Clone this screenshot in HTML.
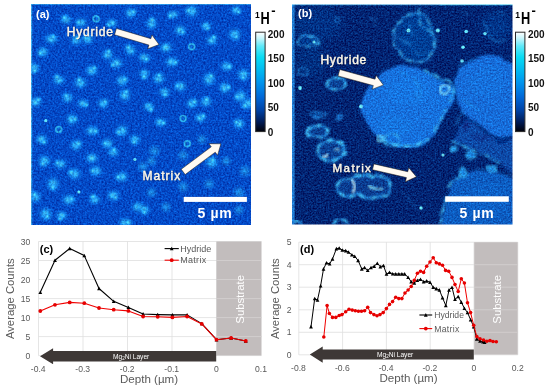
<!DOCTYPE html>
<html lang="en"><head><meta charset="utf-8"><title>Figure</title>
<style>html,body{margin:0;padding:0;background:#fff;overflow:hidden}svg{display:block;font-family:"Liberation Sans", sans-serif}</style>
</head><body>
<svg width="550" height="390" viewBox="0 0 550 390">
<defs>
<radialGradient id="sp"><stop offset="0" stop-color="#54d6fc" stop-opacity="1"/><stop offset="0.12" stop-color="#48ccfc" stop-opacity="1"/><stop offset="0.32" stop-color="#28a6f6" stop-opacity="0.95"/><stop offset="0.6" stop-color="#1484ea" stop-opacity="0.55"/><stop offset="1" stop-color="#0a68dc" stop-opacity="0"/></radialGradient>
<radialGradient id="sd"><stop offset="0" stop-color="#249cee" stop-opacity="0.9"/><stop offset="0.5" stop-color="#1884e4" stop-opacity="0.6"/><stop offset="1" stop-color="#0e6cd4" stop-opacity="0"/></radialGradient>
<linearGradient id="cb" x1="0" y1="0" x2="0" y2="1"><stop offset="0" stop-color="#ffffff"/><stop offset="0.06" stop-color="#c8f6fc"/><stop offset="0.14" stop-color="#5ee8f8"/><stop offset="0.25" stop-color="#08dcf4"/><stop offset="0.40" stop-color="#00b4f0"/><stop offset="0.50" stop-color="#0096ee"/><stop offset="0.65" stop-color="#0068d8"/><stop offset="0.78" stop-color="#0044a8"/><stop offset="0.90" stop-color="#001c58"/><stop offset="1" stop-color="#000008"/></linearGradient>
<filter color-interpolation-filters="sRGB" id="nzA" x="0" y="0" width="100%" height="100%"><feTurbulence type="fractalNoise" baseFrequency="0.55" numOctaves="2" seed="3" result="t"/><feColorMatrix in="t" type="matrix" values="0.06 0 0 0 0.47  0.42 0 0 0 0.29  0.5 0 0 0 0.25  0 0 0 0 1" result="n"/><feComposite in="SourceGraphic" in2="n" operator="arithmetic" k1="0" k2="1" k3="1" k4="-0.5"/></filter>
<filter color-interpolation-filters="sRGB" id="nzB" x="0" y="0" width="100%" height="100%"><feTurbulence type="fractalNoise" baseFrequency="0.6" numOctaves="2" seed="11" result="t"/><feColorMatrix in="t" type="matrix" values="0.06 0 0 0 0.47  0.42 0 0 0 0.29  0.52 0 0 0 0.24  0 0 0 0 1" result="n"/><feComposite in="SourceGraphic" in2="n" operator="arithmetic" k1="0" k2="1" k3="1" k4="-0.5"/></filter>
<filter id="bl1"><feGaussianBlur stdDeviation="0.9"/></filter>
<filter id="bl2"><feGaussianBlur stdDeviation="1.6"/></filter>
<filter id="ts" x="-10%" y="-30%" width="120%" height="160%"><feDropShadow dx="0.3" dy="0.3" stdDeviation="0.55" flood-color="#100800" flood-opacity="0.75"/></filter>
<filter id="bl05"><feGaussianBlur stdDeviation="0.5"/></filter>
<filter id="bl06" x="-30%" y="-30%" width="160%" height="160%"><feGaussianBlur stdDeviation="0.65"/></filter>
<filter id="bl07" x="-20%" y="-20%" width="140%" height="140%"><feTurbulence type="fractalNoise" baseFrequency="0.11" numOctaves="2" seed="8" result="w"/><feDisplacementMap in="SourceGraphic" in2="w" scale="5" xChannelSelector="R" yChannelSelector="G" result="d"/><feGaussianBlur in="d" stdDeviation="0.85"/></filter>
<filter id="bl15" x="-10%" y="-10%" width="120%" height="120%"><feTurbulence type="fractalNoise" baseFrequency="0.07" numOctaves="2" seed="4" result="w"/><feDisplacementMap in="SourceGraphic" in2="w" scale="4.5" xChannelSelector="R" yChannelSelector="G" result="d"/><feGaussianBlur in="d" stdDeviation="1.3"/></filter>
<filter id="bl3" x="-30%" y="-30%" width="160%" height="160%"><feGaussianBlur stdDeviation="5"/></filter>
<clipPath id="cA"><rect x="31" y="4" width="220" height="221"/></clipPath>
<clipPath id="cB"><rect x="292" y="4.5" width="220.5" height="220"/></clipPath>
</defs>
<rect width="550" height="390" fill="#fff"/>
<g clip-path="url(#cA)"><g filter="url(#nzA)">
<rect x="20" y="0" width="240" height="235" fill="#044ac6"/>
<ellipse cx="65.9" cy="19.7" rx="8.1" ry="6.8" fill="url(#sp)"/>
<circle cx="64.6" cy="17.8" r="4.8" fill="url(#sp)"/>
<ellipse cx="81.1" cy="22.5" rx="8.2" ry="6.7" fill="url(#sp)"/>
<circle cx="78.8" cy="22.4" r="4.7" fill="url(#sp)"/>
<circle cx="96.1" cy="18.8" r="2.9" fill="#1c8ce6" fill-opacity="0.35" stroke="#34c4f2" stroke-opacity="0.75" stroke-width="1.7" filter="url(#bl06)"/>
<ellipse cx="111.9" cy="23.1" rx="7.7" ry="6.3" fill="url(#sp)"/>
<circle cx="108.8" cy="24.7" r="4.2" fill="url(#sp)"/>
<ellipse cx="130.6" cy="13.0" rx="8.0" ry="7.6" fill="url(#sp)"/>
<circle cx="133.5" cy="12.0" r="4.6" fill="url(#sp)"/>
<ellipse cx="51.5" cy="38.9" rx="9.2" ry="7.4" fill="url(#sp)"/>
<circle cx="53.2" cy="36.8" r="4.2" fill="url(#sp)"/>
<ellipse cx="76.0" cy="40.4" rx="7.8" ry="6.8" fill="url(#sp)"/>
<circle cx="77.0" cy="38.1" r="4.9" fill="url(#sp)"/>
<ellipse cx="87.5" cy="38.9" rx="8.6" ry="7.7" fill="url(#sp)"/>
<circle cx="85.3" cy="38.2" r="4.1" fill="url(#sp)"/>
<ellipse cx="42.9" cy="51.9" rx="7.9" ry="7.7" fill="url(#sp)"/>
<circle cx="40.5" cy="53.1" r="4.9" fill="url(#sp)"/>
<ellipse cx="107.6" cy="54.7" rx="8.3" ry="7.3" fill="url(#sp)"/>
<circle cx="108.5" cy="51.6" r="4.4" fill="url(#sp)"/>
<ellipse cx="91.8" cy="70.5" rx="8.5" ry="7.9" fill="url(#sp)"/>
<circle cx="94.1" cy="68.2" r="4.4" fill="url(#sp)"/>
<ellipse cx="116.2" cy="63.3" rx="9.2" ry="7.6" fill="url(#sp)"/>
<circle cx="113.3" cy="64.9" r="4.2" fill="url(#sp)"/>
<ellipse cx="58.7" cy="80.0" rx="8.4" ry="6.8" fill="url(#sp)"/>
<circle cx="57.0" cy="77.1" r="4.9" fill="url(#sp)"/>
<ellipse cx="80.3" cy="82.9" rx="9.0" ry="7.9" fill="url(#sp)"/>
<circle cx="79.3" cy="80.0" r="4.9" fill="url(#sp)"/>
<ellipse cx="122.0" cy="80.6" rx="8.3" ry="8.4" fill="url(#sp)"/>
<circle cx="124.7" cy="79.6" r="5.0" fill="url(#sp)"/>
<ellipse cx="130.6" cy="50.4" rx="7.7" ry="7.5" fill="url(#sp)"/>
<circle cx="128.4" cy="47.5" r="5.2" fill="url(#sp)"/>
<ellipse cx="67.4" cy="97.8" rx="8.1" ry="7.2" fill="url(#sp)"/>
<circle cx="66.3" cy="95.9" r="4.7" fill="url(#sp)"/>
<ellipse cx="83.0" cy="103.5" rx="7.9" ry="6.5" fill="url(#sp)"/>
<circle cx="86.1" cy="104.7" r="4.2" fill="url(#sp)"/>
<ellipse cx="103.3" cy="103.6" rx="8.0" ry="7.2" fill="url(#sp)"/>
<circle cx="104.9" cy="101.9" r="4.7" fill="url(#sp)"/>
<ellipse cx="124.8" cy="95.0" rx="8.5" ry="8.7" fill="url(#sp)"/>
<circle cx="126.3" cy="91.8" r="4.4" fill="url(#sp)"/>
<ellipse cx="35.7" cy="102.0" rx="8.3" ry="7.4" fill="url(#sp)"/>
<circle cx="38.4" cy="99.6" r="4.2" fill="url(#sp)"/>
<ellipse cx="34.3" cy="67.7" rx="7.9" ry="6.8" fill="url(#sp)"/>
<circle cx="34.6" cy="70.6" r="4.9" fill="url(#sp)"/>
<ellipse cx="173.0" cy="14.5" rx="8.0" ry="6.4" fill="url(#sp)"/>
<circle cx="170.6" cy="15.8" r="4.8" fill="url(#sp)"/>
<ellipse cx="191.7" cy="11.0" rx="9.1" ry="8.9" fill="url(#sp)"/>
<circle cx="188.6" cy="10.7" r="5.0" fill="url(#sp)"/>
<ellipse cx="151.5" cy="23.7" rx="7.7" ry="7.9" fill="url(#sp)"/>
<circle cx="152.1" cy="20.2" r="5.2" fill="url(#sp)"/>
<ellipse cx="180.2" cy="30.3" rx="8.2" ry="7.4" fill="url(#sp)"/>
<circle cx="182.7" cy="32.2" r="4.1" fill="url(#sp)"/>
<ellipse cx="206.1" cy="26.0" rx="7.7" ry="6.6" fill="url(#sp)"/>
<circle cx="207.5" cy="28.3" r="4.1" fill="url(#sp)"/>
<ellipse cx="236.3" cy="10.2" rx="7.6" ry="6.4" fill="url(#sp)"/>
<circle cx="238.5" cy="11.8" r="4.0" fill="url(#sp)"/>
<ellipse cx="234.8" cy="34.6" rx="9.0" ry="8.6" fill="url(#sp)"/>
<circle cx="236.3" cy="36.7" r="4.5" fill="url(#sp)"/>
<ellipse cx="165.9" cy="47.5" rx="9" ry="7.5" fill="url(#sp)"/>
<circle cx="191.7" cy="46.7" r="2.9" fill="#1c8ce6" fill-opacity="0.35" stroke="#34c4f2" stroke-opacity="0.75" stroke-width="1.7" filter="url(#bl06)"/>
<ellipse cx="211.8" cy="40.4" rx="8.2" ry="6.8" fill="url(#sp)"/>
<circle cx="213.9" cy="37.4" r="4.7" fill="url(#sp)"/>
<ellipse cx="144.3" cy="57.6" rx="8.4" ry="6.9" fill="url(#sp)"/>
<circle cx="146.5" cy="59.2" r="4.4" fill="url(#sp)"/>
<ellipse cx="171.6" cy="61.9" rx="8.9" ry="7.5" fill="url(#sp)"/>
<circle cx="175.2" cy="62.4" r="4.8" fill="url(#sp)"/>
<ellipse cx="226.2" cy="66.2" rx="7.8" ry="7.3" fill="url(#sp)"/>
<circle cx="229.1" cy="66.7" r="5.5" fill="url(#sp)"/>
<ellipse cx="243.4" cy="74.8" rx="9.0" ry="8.7" fill="url(#sp)"/>
<circle cx="243.2" cy="77.5" r="4.3" fill="url(#sp)"/>
<ellipse cx="158.7" cy="78.3" rx="8.8" ry="8.2" fill="url(#sp)"/>
<circle cx="159.2" cy="75.6" r="4.3" fill="url(#sp)"/>
<ellipse cx="209.0" cy="79.1" rx="8.9" ry="9.3" fill="url(#sp)"/>
<circle cx="211.0" cy="76.4" r="5.2" fill="url(#sp)"/>
<ellipse cx="180.2" cy="86.3" rx="8.8" ry="7.5" fill="url(#sp)"/>
<circle cx="177.5" cy="86.0" r="4.0" fill="url(#sp)"/>
<ellipse cx="144.3" cy="73.4" rx="7.6" ry="6.6" fill="url(#sp)"/>
<circle cx="144.1" cy="76.6" r="5.4" fill="url(#sp)"/>
<ellipse cx="224.8" cy="87.8" rx="8.3" ry="8.6" fill="url(#sp)"/>
<circle cx="228.4" cy="87.5" r="4.5" fill="url(#sp)"/>
<ellipse cx="164.4" cy="92.0" rx="8.0" ry="6.8" fill="url(#sp)"/>
<circle cx="165.2" cy="94.4" r="4.9" fill="url(#sp)"/>
<ellipse cx="240.6" cy="96.4" rx="9.0" ry="9.1" fill="url(#sp)"/>
<circle cx="237.4" cy="96.8" r="5.2" fill="url(#sp)"/>
<ellipse cx="191.7" cy="103.6" rx="7.7" ry="7.5" fill="url(#sp)"/>
<circle cx="194.5" cy="101.8" r="5.1" fill="url(#sp)"/>
<ellipse cx="206.0" cy="102.0" rx="8.4" ry="7.1" fill="url(#sp)"/>
<circle cx="206.7" cy="99.4" r="5.2" fill="url(#sp)"/>
<ellipse cx="247.8" cy="103.6" rx="9.2" ry="8.2" fill="url(#sp)"/>
<circle cx="244.9" cy="105.7" r="5.1" fill="url(#sp)"/>
<ellipse cx="148.6" cy="106.4" rx="7.9" ry="6.5" fill="url(#sp)"/>
<circle cx="150.7" cy="109.3" r="5.2" fill="url(#sp)"/>
<circle cx="45.8" cy="120.7" r="1.6" fill="#5fe0fa" filter="url(#bl05)"/>
<ellipse cx="71.7" cy="119.3" rx="7.8" ry="7.9" fill="url(#sp)"/>
<circle cx="74.9" cy="118.9" r="4.5" fill="url(#sp)"/>
<circle cx="58.7" cy="129.4" r="2.9" fill="#1c8ce6" fill-opacity="0.35" stroke="#34c4f2" stroke-opacity="0.75" stroke-width="1.7" filter="url(#bl06)"/>
<ellipse cx="91.8" cy="130.8" rx="8.5" ry="7.1" fill="url(#sp)"/>
<circle cx="95.4" cy="131.1" r="5.0" fill="url(#sp)"/>
<ellipse cx="122.0" cy="130.8" rx="8.4" ry="8.7" fill="url(#sp)"/>
<circle cx="118.8" cy="132.2" r="5.2" fill="url(#sp)"/>
<ellipse cx="134.9" cy="139.4" rx="7.9" ry="6.8" fill="url(#sp)"/>
<circle cx="134.2" cy="141.9" r="4.9" fill="url(#sp)"/>
<ellipse cx="41.5" cy="139.4" rx="8.0" ry="7.3" fill="url(#sp)"/>
<circle cx="43.9" cy="142.0" r="4.5" fill="url(#sp)"/>
<ellipse cx="76.0" cy="145.2" rx="8.3" ry="7.9" fill="url(#sp)"/>
<circle cx="78.3" cy="143.6" r="5.4" fill="url(#sp)"/>
<ellipse cx="107.6" cy="143.7" rx="8.4" ry="7.8" fill="url(#sp)"/>
<circle cx="105.4" cy="143.4" r="4.7" fill="url(#sp)"/>
<ellipse cx="113.3" cy="152.4" rx="7.9" ry="6.3" fill="url(#sp)"/>
<circle cx="114.0" cy="150.1" r="4.7" fill="url(#sp)"/>
<ellipse cx="91.8" cy="158.1" rx="9" ry="7.5" fill="url(#sp)"/>
<ellipse cx="44.4" cy="161.0" rx="8.8" ry="8.2" fill="url(#sp)"/>
<circle cx="43.0" cy="163.6" r="4.8" fill="url(#sp)"/>
<ellipse cx="60.2" cy="163.9" rx="8.9" ry="7.3" fill="url(#sp)"/>
<circle cx="57.8" cy="163.0" r="4.4" fill="url(#sp)"/>
<ellipse cx="74.5" cy="173.9" rx="8.8" ry="8.2" fill="url(#sp)"/>
<circle cx="71.4" cy="172.6" r="5.4" fill="url(#sp)"/>
<ellipse cx="96.1" cy="171.0" rx="8.3" ry="7.9" fill="url(#sp)"/>
<circle cx="93.1" cy="170.9" r="5.0" fill="url(#sp)"/>
<ellipse cx="122.0" cy="176.8" rx="8.3" ry="7.8" fill="url(#sp)"/>
<circle cx="118.4" cy="177.3" r="5.0" fill="url(#sp)"/>
<circle cx="134.9" cy="159.5" r="1.6" fill="#5fe0fa" filter="url(#bl05)"/>
<ellipse cx="53.0" cy="184.0" rx="9.0" ry="9.3" fill="url(#sp)"/>
<circle cx="52.8" cy="187.0" r="5.4" fill="url(#sp)"/>
<circle cx="78.9" cy="192.0" r="1.6" fill="#5fe0fa" filter="url(#bl05)"/>
<ellipse cx="113.3" cy="195.5" rx="8.9" ry="7.5" fill="url(#sp)"/>
<circle cx="115.4" cy="197.5" r="4.1" fill="url(#sp)"/>
<ellipse cx="94.7" cy="199.8" rx="8.0" ry="6.5" fill="url(#sp)"/>
<circle cx="93.1" cy="196.9" r="5.3" fill="url(#sp)"/>
<ellipse cx="35.7" cy="196.9" rx="7.8" ry="7.7" fill="url(#sp)"/>
<circle cx="34.4" cy="194.9" r="5.3" fill="url(#sp)"/>
<ellipse cx="68.8" cy="199.8" rx="9.1" ry="7.8" fill="url(#sp)"/>
<circle cx="71.5" cy="199.0" r="4.7" fill="url(#sp)"/>
<ellipse cx="45.8" cy="214.1" rx="9.2" ry="9.3" fill="url(#sp)"/>
<circle cx="47.3" cy="216.5" r="4.8" fill="url(#sp)"/>
<ellipse cx="61.6" cy="215.6" rx="8.1" ry="6.9" fill="url(#sp)"/>
<circle cx="60.2" cy="218.6" r="4.0" fill="url(#sp)"/>
<ellipse cx="137.8" cy="207.0" rx="8.5" ry="7.7" fill="url(#sp)"/>
<circle cx="140.5" cy="207.3" r="4.9" fill="url(#sp)"/>
<ellipse cx="124.8" cy="222.8" rx="8.4" ry="6.9" fill="url(#sp)"/>
<circle cx="128.2" cy="222.5" r="5.5" fill="url(#sp)"/>
<circle cx="183.1" cy="118.4" r="2.9" fill="#1c8ce6" fill-opacity="0.35" stroke="#34c4f2" stroke-opacity="0.75" stroke-width="1.7" filter="url(#bl06)"/>
<ellipse cx="160.1" cy="122.2" rx="7.8" ry="6.7" fill="url(#sp)"/>
<circle cx="163.4" cy="123.0" r="4.4" fill="url(#sp)"/>
<ellipse cx="200.3" cy="117.9" rx="7.8" ry="7.1" fill="url(#sp)"/>
<circle cx="203.2" cy="116.1" r="4.4" fill="url(#sp)"/>
<ellipse cx="239.1" cy="123.6" rx="7.8" ry="8.1" fill="url(#sp)"/>
<circle cx="236.2" cy="122.2" r="4.1" fill="url(#sp)"/>
<circle cx="201.8" cy="139.4" r="6.6" fill="url(#sd)"/>
<circle cx="187.4" cy="143.7" r="2.9" fill="#1c8ce6" fill-opacity="0.35" stroke="#34c4f2" stroke-opacity="0.75" stroke-width="1.7" filter="url(#bl06)"/>
<circle cx="154.4" cy="150.9" r="7.5" fill="url(#sd)"/>
<circle cx="183.1" cy="155.2" r="7.1" fill="url(#sd)"/>
<circle cx="151.5" cy="161.0" r="6.6" fill="url(#sd)"/>
<ellipse cx="211.8" cy="162.4" rx="9.1" ry="8.7" fill="url(#sp)"/>
<circle cx="212.5" cy="160.2" r="5.3" fill="url(#sp)"/>
<circle cx="226.2" cy="161.0" r="6.6" fill="url(#sd)"/>
<circle cx="244.9" cy="171.0" r="7.8" fill="url(#sd)"/>
<circle cx="142.9" cy="166.7" r="7.2" fill="url(#sd)"/>
<circle cx="209.0" cy="184.0" r="7.0" fill="url(#sd)"/>
<circle cx="183.1" cy="186.8" r="7.3" fill="url(#sd)"/>
<circle cx="239.1" cy="192.6" r="7.9" fill="url(#sd)"/>
<circle cx="165.9" cy="207.0" r="6.9" fill="url(#sd)"/>
<ellipse cx="144.3" cy="209.8" rx="7.8" ry="7.3" fill="url(#sp)"/>
<circle cx="144.5" cy="212.2" r="4.2" fill="url(#sp)"/>
<circle cx="239.1" cy="209.8" r="6.6" fill="url(#sd)"/>
<circle cx="151.5" cy="192.6" r="6.8" fill="url(#sd)"/>
<rect x="31" y="4" width="1.2" height="221" fill="#49b6ee" opacity="0.8"/>
<rect x="31" y="4" width="220" height="1" fill="#35a6ea" opacity="0.7"/>
</g></g>
<polygon transform="translate(115.5 31.6) rotate(16.64)" points="0.0,-3.3 35.9,-3.3 35.9,-7.2 45.4,0.0 35.9,7.2 35.9,3.3 0.0,3.3" fill="#fffaf2" stroke="#1a1208" stroke-opacity="0.55" stroke-width="0.8" stroke-linejoin="round"/>
<text x="66.8" y="35.8" font-size="12" letter-spacing="0.8" font-weight="normal" fill="#fbf6ea" stroke="#fbf6ea" stroke-width="0.3" filter="url(#ts)">Hydride</text>
<polygon transform="translate(183.2 171.9) rotate(-36.70)" points="0.0,-3.3 37.5,-3.3 37.5,-7.2 47.0,0.0 37.5,7.2 37.5,3.3 0.0,3.3" fill="#fffaf2" stroke="#1a1208" stroke-opacity="0.55" stroke-width="0.8" stroke-linejoin="round"/>
<text x="142.6" y="179.6" font-size="12" letter-spacing="1" font-weight="normal" fill="#fbf6ea" stroke="#fbf6ea" stroke-width="0.3" filter="url(#ts)">Matrix</text>
<text x="36" y="17.7" font-size="11" font-weight="bold" fill="#fff">(a)</text>
<rect x="183.7" y="196.9" width="63.2" height="5" fill="#fff"/>
<text x="215" y="218.4" font-size="14" font-weight="bold" letter-spacing="0.7" fill="#fff" text-anchor="middle">5 µm</text>
<g clip-path="url(#cB)"><g filter="url(#nzB)">
<rect x="282" y="0" width="240" height="235" fill="#032472"/>
<g filter="url(#bl3)">
<ellipse cx="318" cy="24" rx="24" ry="16" fill="#0c4aa8" opacity="0.35"/>
<ellipse cx="418" cy="36" rx="18" ry="26" fill="#0e50b0" opacity="0.3"/>
<ellipse cx="497" cy="26" rx="15" ry="14" fill="#0c4aa8" opacity="0.45"/>
<ellipse cx="312" cy="60" rx="14" ry="18" fill="#0a429c" opacity="0.35"/>
</g>
<g filter="url(#bl15)" transform="translate(0.8 1.2)">
<path d="M452,140 C460,142 470,146 480,151 C492,157 503,165 514,173 L514,136 C505,140 497,139 490,135 C482,130 474,123 467,117 C462,122 456,130 452,140 Z" fill="#0a48a6"/>
<path d="M449,187 C452,181 456,177 461,174 C465,171.5 469,170 474,169.6 C481,169 488,170 495,171.5 C502,173 508,175 514,177 L514,226 L440,226 C441,218 443,211 445,204 C446,198 447,192 449,187 Z" fill="#0f5cc0"/>
<path d="M459,67 C463,62 469,59 475,57.5 C481,55 487,54 493,54.3 C499,54.5 504,57 509,60.5 L515,64 L515,133 C510,135 505,136.5 499,135.5 C494,134 491,132 487,130 C482,127 478,124 474.5,121 C471,118.5 469,117 467,115 C464,113 462,112.5 461,110.5 C458,106 457,101 456,96.5 C455,91 454,85 454.7,79 C455.5,74 457,70 459,67 Z" fill="#156cd8"/>
<path d="M391,66.5 C398,64 408,64.5 416,67 C426,70 434,75 441,79 C447,82 453,83 454,88 C455,94 453,99 451,103 C448,108 445,112 442,117 C440,122 437,127 434,132 C430,138 426,142 420,144 C414,146.5 407,146 400,145.5 C393,144 387,142 382,139 C376,135 371,131 368,125 C364,119 361,113 360.5,107 C360,101 362,96 365,91 C368,85 371,80 376,76 C381,71 385,68 391,66.5 Z" fill="#1670dc"/>
<ellipse cx="466" cy="122" rx="3.5" ry="7" fill="#062e86" opacity="0.8"/>
<ellipse cx="500" cy="139" rx="7" ry="4" fill="#062e86" opacity="0.85"/>
<ellipse cx="480" cy="137" rx="9" ry="4" fill="#062e86" opacity="0.6"/>
<ellipse cx="408" cy="90" rx="22" ry="14" fill="#1c7ce6" opacity="0.45"/>
<ellipse cx="395" cy="125" rx="18" ry="10" fill="#1c7ce6" opacity="0.35"/>
<ellipse cx="488" cy="80" rx="16" ry="18" fill="#1a76e0" opacity="0.4"/>
<ellipse cx="486" cy="200" rx="22" ry="18" fill="#1468d0" opacity="0.4"/>
</g>
<path d="M382,139 C390,144 400,147 410,146 C418,145.5 424,143 428,139" fill="none" fill-opacity="0.32" stroke="#2692e6" stroke-width="2.52" stroke-opacity="0.9" stroke-linecap="round" stroke-linejoin="round" filter="url(#bl07)"/><path d="M382,139 C390,144 400,147 410,146 C418,145.5 424,143 428,139" fill="none" stroke="#58dcfa" stroke-width="2.16" stroke-opacity="0.675" stroke-linecap="round" stroke-dasharray="4 8" filter="url(#bl07)"/>
<path d="M434,131 C438,124 442,117 446,110" fill="none" fill-opacity="0.32" stroke="#2692e6" stroke-width="2.1" stroke-opacity="0.7" stroke-linecap="round" stroke-linejoin="round" filter="url(#bl07)"/><path d="M434,131 C438,124 442,117 446,110" fill="none" stroke="#58dcfa" stroke-width="1.8" stroke-opacity="0.525" stroke-linecap="round" stroke-dasharray="4 8" filter="url(#bl07)"/>
<path d="M424,70 C432,74 442,78 449,82 C455,86 455,95 451,101" fill="none" fill-opacity="0.32" stroke="#2692e6" stroke-width="2.1" stroke-opacity="0.8" stroke-linecap="round" stroke-linejoin="round" filter="url(#bl07)"/><path d="M424,70 C432,74 442,78 449,82 C455,86 455,95 451,101" fill="none" stroke="#58dcfa" stroke-width="1.8" stroke-opacity="0.6" stroke-linecap="round" stroke-dasharray="4 8" filter="url(#bl07)"/>
<path d="M441,89 a4,4 0 1,0 8,2 a4,4 0 1,0 -8,-2" fill="none" fill-opacity="0.32" stroke="#8feafc" stroke-width="2.1" stroke-opacity="0.9" stroke-linecap="round" stroke-linejoin="round" filter="url(#bl07)"/>
<path d="M414,78 C418,84 422,90 420,97 C417,100 414,96 416,92" fill="none" fill-opacity="0.32" stroke="#2692e6" stroke-width="1.54" stroke-opacity="0.6" stroke-linecap="round" stroke-linejoin="round" filter="url(#bl07)"/>
<path d="M377.5,139 a3,3 0 1,0 6,0 a3,3 0 1,0 -6,0" fill="none" fill-opacity="0.32" stroke="#6fdcfa" stroke-width="1.82" stroke-opacity="0.9" stroke-linecap="round" stroke-linejoin="round" filter="url(#bl07)"/>
<path d="M400,73 C404,71 408,73 406,77" fill="none" fill-opacity="0.32" stroke="#2692e6" stroke-width="1.4" stroke-opacity="0.5" stroke-linecap="round" stroke-linejoin="round" filter="url(#bl07)"/>
<path d="M327,84 C328,79 334,77 339,78 C344,78 347,82 345,86 C343,89 336,90 331,89 C328,88 326,86 327,84 Z" fill="#1a78da" fill-opacity="0.32" stroke="#2692e6" stroke-width="2.1" stroke-opacity="0.9" stroke-linecap="round" stroke-linejoin="round" filter="url(#bl07)"/><path d="M327,84 C328,79 334,77 339,78 C344,78 347,82 345,86 C343,89 336,90 331,89 C328,88 326,86 327,84 Z" fill="none" stroke="#58dcfa" stroke-width="1.8" stroke-opacity="0.675" stroke-linecap="round" stroke-dasharray="4 8" filter="url(#bl07)"/>
<path d="M307,131 C308,127 314,125 319,126 C324,125 329,128 328,132 C327,136 321,138 315,137.5 C310,137 306,135 307,131 Z" fill="#1a78da" fill-opacity="0.32" stroke="#2692e6" stroke-width="2.24" stroke-opacity="0.9" stroke-linecap="round" stroke-linejoin="round" filter="url(#bl07)"/><path d="M307,131 C308,127 314,125 319,126 C324,125 329,128 328,132 C327,136 321,138 315,137.5 C310,137 306,135 307,131 Z" fill="none" stroke="#58dcfa" stroke-width="1.92" stroke-opacity="0.675" stroke-linecap="round" stroke-dasharray="4 8" filter="url(#bl07)"/>
<path d="M318,148 C320,142 328,139.5 334,141 C341,141 346,146 345,152 C344,158 338,161.5 331,161 C323,161 316,155 318,148 Z" fill="#1a78da" fill-opacity="0.32" stroke="#2692e6" stroke-width="2.52" stroke-opacity="0.9" stroke-linecap="round" stroke-linejoin="round" filter="url(#bl07)"/><path d="M318,148 C320,142 328,139.5 334,141 C341,141 346,146 345,152 C344,158 338,161.5 331,161 C323,161 316,155 318,148 Z" fill="none" stroke="#58dcfa" stroke-width="2.16" stroke-opacity="0.675" stroke-linecap="round" stroke-dasharray="4 8" filter="url(#bl07)"/>
<path d="M323,156 C325,158 328,157 327,154" fill="none" fill-opacity="0.32" stroke="#c8f6fe" stroke-width="1.82" stroke-opacity="0.9" stroke-linecap="round" stroke-linejoin="round" filter="url(#bl07)"/>
<path d="M334,150 C337,147 340,149 339,152" fill="none" fill-opacity="0.32" stroke="#a8f0fc" stroke-width="1.68" stroke-opacity="0.9" stroke-linecap="round" stroke-linejoin="round" filter="url(#bl07)"/>
<path d="M338,186 C339,180 346,177 352,179 C355,174 366,173 372,176 C380,174 390,178 391,185 C392,192 384,198.5 376,197 C370,200 362,198 358,193 C352,199 344,198 340,193 C338,191 337,188 338,186 Z" fill="#1a78da" fill-opacity="0.3" stroke="#2692e6" stroke-width="2.38" stroke-opacity="0.9" stroke-linecap="round" stroke-linejoin="round" filter="url(#bl07)"/><path d="M338,186 C339,180 346,177 352,179 C355,174 366,173 372,176 C380,174 390,178 391,185 C392,192 384,198.5 376,197 C370,200 362,198 358,193 C352,199 344,198 340,193 C338,191 337,188 338,186 Z" fill="none" stroke="#58dcfa" stroke-width="2.04" stroke-opacity="0.675" stroke-linecap="round" stroke-dasharray="4 8" filter="url(#bl07)"/>
<path d="M352,180 C355,184 356,188 353,192" fill="none" fill-opacity="0.32" stroke="#d0f8fe" stroke-width="2.24" stroke-opacity="0.9" stroke-linecap="round" stroke-linejoin="round" filter="url(#bl07)"/>
<path d="M370,186 C372,190 378,191 382,188" fill="none" fill-opacity="0.32" stroke="#8feafc" stroke-width="2.24" stroke-opacity="0.9" stroke-linecap="round" stroke-linejoin="round" filter="url(#bl07)"/>
<path d="M384,137 C386,133 392,133 396,136 C400,138 402,142 398,145 C393,147 386,146 384,142 Z" fill="none" fill-opacity="0.32" stroke="#2692e6" stroke-width="1.82" stroke-opacity="0.7" stroke-linecap="round" stroke-linejoin="round" filter="url(#bl07)"/><path d="M384,137 C386,133 392,133 396,136 C400,138 402,142 398,145 C393,147 386,146 384,142 Z" fill="none" stroke="#58dcfa" stroke-width="1.56" stroke-opacity="0.525" stroke-linecap="round" stroke-dasharray="4 8" filter="url(#bl07)"/>
<path d="M333,224 C335,219 343,218 347,222" fill="none" fill-opacity="0.32" stroke="#2692e6" stroke-width="2.24" stroke-opacity="0.9" stroke-linecap="round" stroke-linejoin="round" filter="url(#bl07)"/><path d="M333,224 C335,219 343,218 347,222" fill="none" stroke="#58dcfa" stroke-width="1.92" stroke-opacity="0.675" stroke-linecap="round" stroke-dasharray="4 8" filter="url(#bl07)"/>
<path d="M294,223 C297,220 301,221 302,224" fill="none" fill-opacity="0.32" stroke="#2692e6" stroke-width="1.96" stroke-opacity="0.9" stroke-linecap="round" stroke-linejoin="round" filter="url(#bl07)"/><path d="M294,223 C297,220 301,221 302,224" fill="none" stroke="#58dcfa" stroke-width="1.68" stroke-opacity="0.675" stroke-linecap="round" stroke-dasharray="4 8" filter="url(#bl07)"/>
<circle cx="316" cy="117" r="2.8" fill="#1a78da" fill-opacity="0.7" stroke="#2ea6ea" stroke-opacity="0.6" stroke-width="0.8" filter="url(#bl07)"/>
<circle cx="339" cy="117" r="3.2" fill="#1a78da" fill-opacity="0.7" stroke="#2ea6ea" stroke-opacity="0.6" stroke-width="0.8" filter="url(#bl07)"/>
<path d="M334.5,20 a2.7,2.7 0 1,0 5.4,0 a2.7,2.7 0 1,0 -5.4,0" fill="none" fill-opacity="0.32" stroke="#2692e6" stroke-width="1.4" stroke-opacity="0.45" stroke-linecap="round" stroke-linejoin="round" filter="url(#bl07)"/>
<path d="M370,19 C373,17 376,20 375,25" fill="none" fill-opacity="0.32" stroke="#2692e6" stroke-width="1.4" stroke-opacity="0.4" stroke-linecap="round" stroke-linejoin="round" filter="url(#bl07)"/>
<path d="M298,70 C301,67 308,68 308,72 C307,76 300,76 298,73 Z" fill="none" fill-opacity="0.32" stroke="#2692e6" stroke-width="1.68" stroke-opacity="0.6" stroke-linecap="round" stroke-linejoin="round" filter="url(#bl07)"/>
<path d="M398,24 C402,17 410,13 419,13 C426,14 430,21 432,29 C435,36 436,45 433,52 C430,59 423,63 415,62 C407,61 400,55 396,47 C392,39 393,31 398,24 Z" fill="#1464c8" fill-opacity="0.25" stroke="#2692e6" stroke-width="1.82" stroke-opacity="0.7" stroke-linecap="round" stroke-linejoin="round" filter="url(#bl07)"/><path d="M398,24 C402,17 410,13 419,13 C426,14 430,21 432,29 C435,36 436,45 433,52 C430,59 423,63 415,62 C407,61 400,55 396,47 C392,39 393,31 398,24 Z" fill="none" stroke="#58dcfa" stroke-width="1.56" stroke-opacity="0.525" stroke-linecap="round" stroke-dasharray="4 8" filter="url(#bl07)"/>
<path d="M419,9 C421,14 419,18 420,22 C422,28 430,29 433,35" fill="none" fill-opacity="0.32" stroke="#2692e6" stroke-width="1.82" stroke-opacity="0.75" stroke-linecap="round" stroke-linejoin="round" filter="url(#bl07)"/><path d="M419,9 C421,14 419,18 420,22 C422,28 430,29 433,35" fill="none" stroke="#58dcfa" stroke-width="1.56" stroke-opacity="0.5625" stroke-linecap="round" stroke-dasharray="4 8" filter="url(#bl07)"/>
<path d="M400,38 C404,41 407,43 411,45" fill="none" fill-opacity="0.32" stroke="#2692e6" stroke-width="1.68" stroke-opacity="0.65" stroke-linecap="round" stroke-linejoin="round" filter="url(#bl07)"/>
<path d="M416,52 C419,56 424,55 425,50" fill="none" fill-opacity="0.32" stroke="#2692e6" stroke-width="1.54" stroke-opacity="0.5" stroke-linecap="round" stroke-linejoin="round" filter="url(#bl07)"/>
<path d="M408,24 C412,28 411,34 415,37" fill="none" fill-opacity="0.32" stroke="#2692e6" stroke-width="1.4" stroke-opacity="0.45" stroke-linecap="round" stroke-linejoin="round" filter="url(#bl07)"/>
<path d="M298,40 C301,36 308,35 313,37 C318,37 320,41 318,44 C314,47 306,47 301,46 C298,45 297,43 298,40 Z" fill="#1464c8" fill-opacity="0.25" stroke="#2692e6" stroke-width="1.82" stroke-opacity="0.75" stroke-linecap="round" stroke-linejoin="round" filter="url(#bl07)"/><path d="M298,40 C301,36 308,35 313,37 C318,37 320,41 318,44 C314,47 306,47 301,46 C298,45 297,43 298,40 Z" fill="none" stroke="#58dcfa" stroke-width="1.56" stroke-opacity="0.5625" stroke-linecap="round" stroke-dasharray="4 8" filter="url(#bl07)"/>
<path d="M310,113 C314,111 322,111 327,114 C324,118 314,118 310,115 Z" fill="#1464c8" fill-opacity="0.25" stroke="#2692e6" stroke-width="1.54" stroke-opacity="0.6" stroke-linecap="round" stroke-linejoin="round" filter="url(#bl07)"/>
<path d="M484,21 C486,28 488,34 491,38 C496,41 501,41 505,40" fill="none" fill-opacity="0.32" stroke="#2692e6" stroke-width="1.68" stroke-opacity="0.55" stroke-linecap="round" stroke-linejoin="round" filter="url(#bl07)"/>
<path d="M498,13 C501,11 504,13 503,16" fill="none" fill-opacity="0.32" stroke="#2692e6" stroke-width="1.4" stroke-opacity="0.45" stroke-linecap="round" stroke-linejoin="round" filter="url(#bl07)"/>
<path d="M462,13 C465,11 469,12 468,16" fill="none" fill-opacity="0.32" stroke="#2692e6" stroke-width="1.4" stroke-opacity="0.5" stroke-linecap="round" stroke-linejoin="round" filter="url(#bl07)"/>
<circle cx="408.4" cy="30.5" r="1.9" fill="#66e4fc" filter="url(#bl06)"/>
<circle cx="437.8" cy="30.5" r="2" fill="#66e4fc" filter="url(#bl06)"/>
<circle cx="466.2" cy="31.5" r="1.8" fill="#66e4fc" filter="url(#bl06)"/>
<circle cx="485" cy="33.6" r="1.7" fill="#66e4fc" filter="url(#bl06)"/>
<circle cx="463" cy="47.3" r="1.8" fill="#66e4fc" filter="url(#bl06)"/>
<circle cx="462" cy="61" r="1.8" fill="#66e4fc" filter="url(#bl06)"/>
<circle cx="361" cy="106.6" r="2" fill="#66e4fc" filter="url(#bl06)"/>
<circle cx="300" cy="88" r="1.9" fill="#66e4fc" filter="url(#bl06)"/>
<circle cx="443" cy="155" r="1.6" fill="#66e4fc" filter="url(#bl06)"/>
<circle cx="421" cy="208" r="1.7" fill="#66e4fc" filter="url(#bl06)"/>
<circle cx="314" cy="42" r="1.5" fill="#66e4fc" filter="url(#bl06)"/>
<ellipse cx="453.6" cy="149" rx="3.2" ry="2.4" fill="#1c84e0" stroke="#38b8f0" stroke-width="1.1" filter="url(#bl07)"/>
<ellipse cx="470.4" cy="155" rx="5.5" ry="4.5" fill="#1c84e0" stroke="#38b8f0" stroke-width="1.1" filter="url(#bl07)"/>
<ellipse cx="463" cy="172" rx="4.5" ry="5.5" fill="#1c84e0" stroke="#38b8f0" stroke-width="1.1" filter="url(#bl07)"/>
<ellipse cx="491.4" cy="169" rx="4.2" ry="3.2" fill="#1c84e0" stroke="#38b8f0" stroke-width="1.1" filter="url(#bl07)"/>
<path d="M451.5,141.5 C462,145 472,149 481,154 C488,158 494,160 499,163" fill="none" fill-opacity="0.32" stroke="#2692e6" stroke-width="1.96" stroke-opacity="0.7" stroke-linecap="round" stroke-linejoin="round" filter="url(#bl07)"/><path d="M451.5,141.5 C462,145 472,149 481,154 C488,158 494,160 499,163" fill="none" stroke="#58dcfa" stroke-width="1.68" stroke-opacity="0.525" stroke-linecap="round" stroke-dasharray="4 8" filter="url(#bl07)"/>
<path d="M455,125 C458,119 461,114 463,110" fill="none" fill-opacity="0.32" stroke="#2692e6" stroke-width="1.68" stroke-opacity="0.55" stroke-linecap="round" stroke-linejoin="round" filter="url(#bl07)"/>
<path d="M449,187 C452,181 456,177 461,174" fill="none" fill-opacity="0.32" stroke="#2692e6" stroke-width="2.1" stroke-opacity="0.7" stroke-linecap="round" stroke-linejoin="round" filter="url(#bl07)"/><path d="M449,187 C452,181 456,177 461,174" fill="none" stroke="#58dcfa" stroke-width="1.8" stroke-opacity="0.525" stroke-linecap="round" stroke-dasharray="4 8" filter="url(#bl07)"/>
<path d="M440,224 C441,215 444,206 447,196" fill="none" fill-opacity="0.32" stroke="#2692e6" stroke-width="2.52" stroke-opacity="0.7" stroke-linecap="round" stroke-linejoin="round" filter="url(#bl07)"/><path d="M440,224 C441,215 444,206 447,196" fill="none" stroke="#58dcfa" stroke-width="2.16" stroke-opacity="0.525" stroke-linecap="round" stroke-dasharray="4 8" filter="url(#bl07)"/>
<path d="M474,169.6 C481,169 488,170 495,171.5 C502,173 508,175 514,177" fill="none" fill-opacity="0.32" stroke="#2692e6" stroke-width="1.68" stroke-opacity="0.4" stroke-linecap="round" stroke-linejoin="round" filter="url(#bl07)"/>
<path d="M404,193 C407,197 411,203 416,206" fill="none" fill-opacity="0.32" stroke="#2692e6" stroke-width="1.54" stroke-opacity="0.4" stroke-linecap="round" stroke-linejoin="round" filter="url(#bl07)"/>
<path d="M462,100 C468,104 476,106 480,112" fill="none" fill-opacity="0.32" stroke="#2692e6" stroke-width="1.68" stroke-opacity="0.5" stroke-linecap="round" stroke-linejoin="round" filter="url(#bl07)"/>
<path d="M470,78 C474,84 472,92 476,96" fill="none" fill-opacity="0.32" stroke="#2692e6" stroke-width="1.4" stroke-opacity="0.4" stroke-linecap="round" stroke-linejoin="round" filter="url(#bl07)"/>
<path d="M459,68 C463,62 469,59 475,57.5" fill="none" fill-opacity="0.32" stroke="#2692e6" stroke-width="1.54" stroke-opacity="0.35" stroke-linecap="round" stroke-linejoin="round" filter="url(#bl07)"/>
<rect x="292" y="4" width="2.6" height="221" fill="#2484dc" opacity="0.9"/>
<rect x="292" y="4" width="221" height="1.3" fill="#2aa8e8" opacity="0.75"/>
<rect x="440" y="4" width="73" height="1.2" fill="#38d0f0" opacity="0.7"/>
</g></g>
<polygon transform="translate(338.9 72.7) rotate(15.33)" points="0.0,-3.3 36.6,-3.3 36.6,-7.2 46.1,0.0 36.6,7.2 36.6,3.3 0.0,3.3" fill="#fffaf2" stroke="#1a1208" stroke-opacity="0.55" stroke-width="0.8" stroke-linejoin="round"/>
<text x="320.4" y="63.7" font-size="12" letter-spacing="0.75" font-weight="normal" fill="#fbf6ea" stroke="#fbf6ea" stroke-width="0.3" filter="url(#ts)">Hydride</text>
<polygon transform="translate(373.2 166.8) rotate(13.03)" points="0.0,-3.0 34.8,-3.0 34.8,-7.2 44.3,0.0 34.8,7.2 34.8,3.0 0.0,3.0" fill="#fffaf2" stroke="#1a1208" stroke-opacity="0.55" stroke-width="0.8" stroke-linejoin="round"/>
<text x="332.6" y="171.7" font-size="11.6" letter-spacing="1.35" font-weight="normal" fill="#fbf6ea" stroke="#fbf6ea" stroke-width="0.3" filter="url(#ts)">Matrix</text>
<text x="298" y="17.2" font-size="11" font-weight="bold" fill="#fff">(b)</text>
<rect x="445.2" y="196.3" width="63.6" height="5.5" fill="#fff"/>
<text x="477" y="218.4" font-size="14" font-weight="bold" letter-spacing="0.7" fill="#fff" text-anchor="middle">5 µm</text>
<rect x="255.7" y="32.2" width="9.4" height="99.4" fill="url(#cb)" stroke="#2a2a2a" stroke-width="1"/><text x="267.8" y="37.6" font-size="10" font-weight="bold" fill="#111">200</text><text x="267.8" y="62.0" font-size="10" font-weight="bold" fill="#111">150</text><text x="267.8" y="86.6" font-size="10" font-weight="bold" fill="#111">100</text><text x="267.8" y="111.2" font-size="10" font-weight="bold" fill="#111">50</text><text x="267.8" y="135.8" font-size="10" font-weight="bold" fill="#111">0</text><text x="255.0" y="17.8" font-size="8.5" font-weight="bold" fill="#000">1</text><text transform="translate(260.6 23.7) scale(0.8 1)" font-size="16" font-weight="bold" fill="#000">H</text><text x="271.3" y="15" font-size="13" font-weight="bold" fill="#000">-</text>
<rect x="515.5" y="32.2" width="9.4" height="99.4" fill="url(#cb)" stroke="#2a2a2a" stroke-width="1"/><text x="528.0" y="37.6" font-size="10" font-weight="bold" fill="#111">200</text><text x="528.0" y="62.0" font-size="10" font-weight="bold" fill="#111">150</text><text x="528.0" y="86.6" font-size="10" font-weight="bold" fill="#111">100</text><text x="528.0" y="111.2" font-size="10" font-weight="bold" fill="#111">50</text><text x="528.0" y="135.8" font-size="10" font-weight="bold" fill="#111">0</text><text x="515.3" y="17.8" font-size="8.5" font-weight="bold" fill="#000">1</text><text transform="translate(520.9 23.7) scale(0.8 1)" font-size="16" font-weight="bold" fill="#000">H</text><text x="531.6" y="15" font-size="13" font-weight="bold" fill="#000">-</text>
<line x1="38.5" y1="355.6" x2="261.3" y2="355.6" stroke="#dedede" stroke-width="0.8"/><line x1="38.5" y1="336.6" x2="261.3" y2="336.6" stroke="#dedede" stroke-width="0.8"/><line x1="38.5" y1="317.6" x2="261.3" y2="317.6" stroke="#dedede" stroke-width="0.8"/><line x1="38.5" y1="298.6" x2="261.3" y2="298.6" stroke="#dedede" stroke-width="0.8"/><line x1="38.5" y1="279.5" x2="261.3" y2="279.5" stroke="#dedede" stroke-width="0.8"/><line x1="38.5" y1="260.5" x2="261.3" y2="260.5" stroke="#dedede" stroke-width="0.8"/><line x1="38.5" y1="241.5" x2="261.3" y2="241.5" stroke="#dedede" stroke-width="0.8"/><line x1="38.5" y1="241.5" x2="38.5" y2="355.6" stroke="#dedede" stroke-width="0.8"/><line x1="83.0" y1="241.5" x2="83.0" y2="355.6" stroke="#dedede" stroke-width="0.8"/><line x1="127.5" y1="241.5" x2="127.5" y2="355.6" stroke="#dedede" stroke-width="0.8"/><line x1="172.0" y1="241.5" x2="172.0" y2="355.6" stroke="#dedede" stroke-width="0.8"/><line x1="216.5" y1="241.5" x2="216.5" y2="355.6" stroke="#dedede" stroke-width="0.8"/><line x1="261.0" y1="241.5" x2="261.0" y2="355.6" stroke="#dedede" stroke-width="0.8"/>
<rect x="216.5" y="241.5" width="44.9" height="114" fill="#c2bdbd"/>
<line x1="216.5" y1="336.6" x2="261.4" y2="336.6" stroke="#d3cfcf" stroke-width="0.9"/>
<line x1="216.5" y1="317.6" x2="261.4" y2="317.6" stroke="#d3cfcf" stroke-width="0.9"/>
<line x1="216.5" y1="298.6" x2="261.4" y2="298.6" stroke="#d3cfcf" stroke-width="0.9"/>
<line x1="216.5" y1="279.5" x2="261.4" y2="279.5" stroke="#d3cfcf" stroke-width="0.9"/>
<line x1="216.5" y1="260.5" x2="261.4" y2="260.5" stroke="#d3cfcf" stroke-width="0.9"/>
<text transform="translate(243.6 299.3) rotate(-90)" font-size="11.4" fill="#fff" text-anchor="middle">Substrate</text>
<text x="30.4" y="358.7" font-size="8.6" fill="#595959" text-anchor="end">0</text>
<text x="30.4" y="339.7" font-size="8.6" fill="#595959" text-anchor="end">5</text>
<text x="30.4" y="320.7" font-size="8.6" fill="#595959" text-anchor="end">10</text>
<text x="30.4" y="301.7" font-size="8.6" fill="#595959" text-anchor="end">15</text>
<text x="30.4" y="282.6" font-size="8.6" fill="#595959" text-anchor="end">20</text>
<text x="30.4" y="263.6" font-size="8.6" fill="#595959" text-anchor="end">25</text>
<text x="30.4" y="244.6" font-size="8.6" fill="#595959" text-anchor="end">30</text>
<text x="38.2" y="371.7" font-size="8.6" fill="#595959" text-anchor="middle">-0.4</text>
<text x="82.7" y="371.7" font-size="8.6" fill="#595959" text-anchor="middle">-0.3</text>
<text x="127.2" y="371.7" font-size="8.6" fill="#595959" text-anchor="middle">-0.2</text>
<text x="171.7" y="371.7" font-size="8.6" fill="#595959" text-anchor="middle">-0.1</text>
<text x="216.5" y="371.7" font-size="8.6" fill="#595959" text-anchor="middle">0</text>
<text x="261.0" y="371.7" font-size="8.6" fill="#595959" text-anchor="middle">0.1</text>
<text transform="translate(13.6 298.7) rotate(-90)" font-size="11.3" fill="#595959" text-anchor="middle">Average Counts</text>
<text x="149" y="383.2" font-size="11.6" fill="#595959" text-anchor="middle">Depth (µm)</text>
<polygon points="40,356.2 53.1,348.2 53.1,351.1 216.2,351.1 216.2,361.5 53.1,361.5 53.1,364.3" fill="#3e3836"/>
<text x="113" y="358.6" font-size="6.6" fill="#fff">Mg<tspan font-size="4.5" dy="1.2">2</tspan><tspan dy="-1.2">Ni Layer</tspan></text>
<polyline points="40.3,292.3 55.0,260.3 69.7,248.5 84.3,255.6 99.0,288.5 113.7,301.3 128.4,307.4 143.1,314.0 157.7,314.6 172.4,314.9 187.1,314.9 201.8,323.6 216.5,339.7 231.1,338.0 245.8,341.0" fill="none" stroke="#000" stroke-width="1.1" stroke-linejoin="round"/>
<polygon points="40.3,290.4 38.4,294.0 42.2,294.0" fill="#000"/>
<polygon points="55.0,258.4 53.1,262.0 56.9,262.0" fill="#000"/>
<polygon points="69.7,246.6 67.8,250.2 71.6,250.2" fill="#000"/>
<polygon points="84.3,253.7 82.4,257.3 86.2,257.3" fill="#000"/>
<polygon points="99.0,286.6 97.1,290.2 100.9,290.2" fill="#000"/>
<polygon points="113.7,299.4 111.8,303.0 115.6,303.0" fill="#000"/>
<polygon points="128.4,305.5 126.5,309.1 130.3,309.1" fill="#000"/>
<polygon points="143.1,312.1 141.2,315.7 145.0,315.7" fill="#000"/>
<polygon points="157.7,312.7 155.8,316.3 159.6,316.3" fill="#000"/>
<polygon points="172.4,313.0 170.5,316.6 174.3,316.6" fill="#000"/>
<polygon points="187.1,313.0 185.2,316.6 189.0,316.6" fill="#000"/>
<polygon points="201.8,321.7 199.9,325.3 203.7,325.3" fill="#000"/>
<polygon points="216.5,337.8 214.6,341.4 218.4,341.4" fill="#000"/>
<polygon points="231.1,336.1 229.2,339.7 233.0,339.7" fill="#000"/>
<polygon points="245.8,339.1 243.9,342.7 247.7,342.7" fill="#000"/>
<polyline points="40.3,311.0 55.0,304.8 69.7,302.4 84.3,303.2 99.0,308.0 113.7,309.7 128.4,310.9 143.1,316.5 157.7,316.8 172.4,317.4 187.1,316.5 201.8,323.9 216.5,339.7 231.1,338.0 245.8,341.0" fill="none" stroke="#f00000" stroke-width="1.1" stroke-linejoin="round"/>
<circle cx="40.3" cy="311.0" r="1.9" fill="#e60000"/>
<circle cx="55.0" cy="304.8" r="1.9" fill="#e60000"/>
<circle cx="69.7" cy="302.4" r="1.9" fill="#e60000"/>
<circle cx="84.3" cy="303.2" r="1.9" fill="#e60000"/>
<circle cx="99.0" cy="308.0" r="1.9" fill="#e60000"/>
<circle cx="113.7" cy="309.7" r="1.9" fill="#e60000"/>
<circle cx="128.4" cy="310.9" r="1.9" fill="#e60000"/>
<circle cx="143.1" cy="316.5" r="1.9" fill="#e60000"/>
<circle cx="157.7" cy="316.8" r="1.9" fill="#e60000"/>
<circle cx="172.4" cy="317.4" r="1.9" fill="#e60000"/>
<circle cx="187.1" cy="316.5" r="1.9" fill="#e60000"/>
<circle cx="201.8" cy="323.9" r="1.9" fill="#e60000"/>
<circle cx="216.5" cy="339.7" r="1.9" fill="#e60000"/>
<circle cx="231.1" cy="338.0" r="1.9" fill="#e60000"/>
<circle cx="245.8" cy="341.0" r="1.9" fill="#e60000"/>
<line x1="164.6" y1="248.6" x2="178.8" y2="248.6" stroke="#000" stroke-width="1.1"/><polygon points="171.7,246.7 169.8,250.3 173.6,250.3" fill="#000"/>
<text x="180.2" y="251.8" font-size="9" fill="#595959">Hydride</text>
<line x1="164.6" y1="260.2" x2="178.8" y2="260.2" stroke="#f00000" stroke-width="1.1"/><circle cx="171.7" cy="260.2" r="1.9" fill="#e60000"/>
<text x="180.2" y="263.4" font-size="9" letter-spacing="0.3" fill="#595959">Matrix</text>
<text x="39.8" y="253.2" font-size="11" font-weight="bold" fill="#000">(c)</text>
<line x1="298.8" y1="354.8" x2="517.7" y2="354.8" stroke="#dedede" stroke-width="0.8"/><line x1="298.8" y1="332.3" x2="517.7" y2="332.3" stroke="#dedede" stroke-width="0.8"/><line x1="298.8" y1="309.8" x2="517.7" y2="309.8" stroke="#dedede" stroke-width="0.8"/><line x1="298.8" y1="287.2" x2="517.7" y2="287.2" stroke="#dedede" stroke-width="0.8"/><line x1="298.8" y1="264.7" x2="517.7" y2="264.7" stroke="#dedede" stroke-width="0.8"/><line x1="298.8" y1="242.2" x2="517.7" y2="242.2" stroke="#dedede" stroke-width="0.8"/><line x1="298.8" y1="242.2" x2="298.8" y2="354.8" stroke="#dedede" stroke-width="0.8"/><line x1="342.6" y1="242.2" x2="342.6" y2="354.8" stroke="#dedede" stroke-width="0.8"/><line x1="386.4" y1="242.2" x2="386.4" y2="354.8" stroke="#dedede" stroke-width="0.8"/><line x1="430.2" y1="242.2" x2="430.2" y2="354.8" stroke="#dedede" stroke-width="0.8"/><line x1="474.0" y1="242.2" x2="474.0" y2="354.8" stroke="#dedede" stroke-width="0.8"/><line x1="517.8" y1="242.2" x2="517.8" y2="354.8" stroke="#dedede" stroke-width="0.8"/>
<rect x="474.2" y="242.2" width="43.5" height="112.4" fill="#c2bdbd"/>
<line x1="474.2" y1="332.3" x2="517.7" y2="332.3" stroke="#d3cfcf" stroke-width="0.9"/>
<line x1="474.2" y1="309.8" x2="517.7" y2="309.8" stroke="#d3cfcf" stroke-width="0.9"/>
<line x1="474.2" y1="287.2" x2="517.7" y2="287.2" stroke="#d3cfcf" stroke-width="0.9"/>
<line x1="474.2" y1="264.7" x2="517.7" y2="264.7" stroke="#d3cfcf" stroke-width="0.9"/>
<text transform="translate(500.6 299.3) rotate(-90)" font-size="11.4" fill="#fff" text-anchor="middle">Substrate</text>
<text x="291.6" y="357.9" font-size="8.6" fill="#595959" text-anchor="end">0</text>
<text x="291.6" y="335.4" font-size="8.6" fill="#595959" text-anchor="end">1</text>
<text x="291.6" y="312.9" font-size="8.6" fill="#595959" text-anchor="end">2</text>
<text x="291.6" y="290.3" font-size="8.6" fill="#595959" text-anchor="end">3</text>
<text x="291.6" y="267.8" font-size="8.6" fill="#595959" text-anchor="end">4</text>
<text x="291.6" y="245.3" font-size="8.6" fill="#595959" text-anchor="end">5</text>
<text x="298.5" y="371" font-size="8.6" fill="#595959" text-anchor="middle">-0.8</text>
<text x="342.3" y="371" font-size="8.6" fill="#595959" text-anchor="middle">-0.6</text>
<text x="386.1" y="371" font-size="8.6" fill="#595959" text-anchor="middle">-0.4</text>
<text x="429.9" y="371" font-size="8.6" fill="#595959" text-anchor="middle">-0.2</text>
<text x="474.0" y="371" font-size="8.6" fill="#595959" text-anchor="middle">0</text>
<text x="517.8" y="371" font-size="8.6" fill="#595959" text-anchor="middle">0.2</text>
<text transform="translate(279.2 298.7) rotate(-90)" font-size="11.3" fill="#595959" text-anchor="middle">Average Counts</text>
<text x="408.5" y="382.2" font-size="11.6" fill="#595959" text-anchor="middle">Depth (µm)</text>
<polygon points="309.8,354.6 322.7,346.5 322.7,349.6 473.8,349.6 473.8,359.6 322.7,359.6 322.7,362.7" fill="#3e3836"/>
<text x="377" y="357" font-size="6.6" fill="#fff">Mg<tspan font-size="4.5" dy="1.2">2</tspan><tspan dy="-1.2">Ni Layer</tspan></text>
<polyline points="311.0,326.7 314.7,298.6 317.5,300.0 320.6,285.9 323.5,269.0 326.5,262.8 329.6,263.9 332.5,259.0 336.4,248.7 339.2,248.1 342.3,250.1 345.7,250.7 348.5,252.1 351.9,254.9 354.7,256.3 358.1,260.5 361.8,269.0 364.6,267.6 367.7,270.4 371.0,267.6 374.2,266.2 377.3,263.4 380.4,266.7 383.5,265.6 386.5,274.0 389.5,272.4 392.6,273.8 395.7,274.0 398.8,274.0 401.9,274.0 404.7,274.0 408.1,277.4 411.2,281.7 414.3,283.0 417.4,280.3 420.5,279.4 423.6,281.7 426.7,281.0 430.0,282.2 433.2,287.3 436.3,288.7 439.4,290.0 442.5,297.7 445.8,305.6 449.0,290.0 452.0,287.3 455.0,299.4 458.2,296.6 461.3,302.2 464.4,308.4 467.5,312.6 470.6,319.7 473.7,326.7 476.8,339.0 480.0,341.0 483.0,341.8 484.6,342.2" fill="none" stroke="#000" stroke-width="1" stroke-linejoin="round"/>
<polygon points="311.0,324.8 309.1,328.4 312.9,328.4" fill="#000"/>
<polygon points="314.7,296.8 312.8,300.3 316.6,300.3" fill="#000"/>
<polygon points="317.5,298.1 315.6,301.7 319.4,301.7" fill="#000"/>
<polygon points="320.6,284.0 318.8,287.6 322.5,287.6" fill="#000"/>
<polygon points="323.5,267.1 321.6,270.7 325.4,270.7" fill="#000"/>
<polygon points="326.5,260.9 324.6,264.5 328.4,264.5" fill="#000"/>
<polygon points="329.6,262.0 327.8,265.6 331.5,265.6" fill="#000"/>
<polygon points="332.5,257.1 330.6,260.7 334.4,260.7" fill="#000"/>
<polygon points="336.4,246.8 334.5,250.4 338.2,250.4" fill="#000"/>
<polygon points="339.2,246.2 337.3,249.8 341.1,249.8" fill="#000"/>
<polygon points="342.3,248.2 340.4,251.8 344.2,251.8" fill="#000"/>
<polygon points="345.7,248.8 343.8,252.4 347.6,252.4" fill="#000"/>
<polygon points="348.5,250.2 346.6,253.8 350.4,253.8" fill="#000"/>
<polygon points="351.9,253.1 350.0,256.6 353.8,256.6" fill="#000"/>
<polygon points="354.7,254.5 352.8,258.0 356.6,258.0" fill="#000"/>
<polygon points="358.1,258.6 356.2,262.2 360.0,262.2" fill="#000"/>
<polygon points="361.8,267.1 359.9,270.7 363.7,270.7" fill="#000"/>
<polygon points="364.6,265.8 362.8,269.3 366.5,269.3" fill="#000"/>
<polygon points="367.7,268.5 365.8,272.1 369.6,272.1" fill="#000"/>
<polygon points="371.0,265.8 369.1,269.3 372.9,269.3" fill="#000"/>
<polygon points="374.2,264.3 372.3,267.9 376.1,267.9" fill="#000"/>
<polygon points="377.3,261.5 375.4,265.1 379.2,265.1" fill="#000"/>
<polygon points="380.4,264.8 378.5,268.4 382.2,268.4" fill="#000"/>
<polygon points="383.5,263.8 381.6,267.3 385.4,267.3" fill="#000"/>
<polygon points="386.5,272.1 384.6,275.7 388.4,275.7" fill="#000"/>
<polygon points="389.5,270.5 387.6,274.1 391.4,274.1" fill="#000"/>
<polygon points="392.6,271.9 390.8,275.5 394.5,275.5" fill="#000"/>
<polygon points="395.7,272.1 393.8,275.7 397.6,275.7" fill="#000"/>
<polygon points="398.8,272.1 396.9,275.7 400.7,275.7" fill="#000"/>
<polygon points="401.9,272.1 400.0,275.7 403.8,275.7" fill="#000"/>
<polygon points="404.7,272.1 402.8,275.7 406.6,275.7" fill="#000"/>
<polygon points="408.1,275.5 406.2,279.1 410.0,279.1" fill="#000"/>
<polygon points="411.2,279.8 409.3,283.4 413.1,283.4" fill="#000"/>
<polygon points="414.3,281.1 412.4,284.7 416.2,284.7" fill="#000"/>
<polygon points="417.4,278.4 415.5,282.0 419.2,282.0" fill="#000"/>
<polygon points="420.5,277.5 418.6,281.1 422.4,281.1" fill="#000"/>
<polygon points="423.6,279.8 421.8,283.4 425.5,283.4" fill="#000"/>
<polygon points="426.7,279.1 424.8,282.7 428.6,282.7" fill="#000"/>
<polygon points="430.0,280.3 428.1,283.9 431.9,283.9" fill="#000"/>
<polygon points="433.2,285.4 431.3,289.0 435.1,289.0" fill="#000"/>
<polygon points="436.3,286.8 434.4,290.4 438.2,290.4" fill="#000"/>
<polygon points="439.4,288.1 437.5,291.7 441.2,291.7" fill="#000"/>
<polygon points="442.5,295.8 440.6,299.4 444.4,299.4" fill="#000"/>
<polygon points="445.8,303.8 443.9,307.3 447.7,307.3" fill="#000"/>
<polygon points="449.0,288.1 447.1,291.7 450.9,291.7" fill="#000"/>
<polygon points="452.0,285.4 450.1,289.0 453.9,289.0" fill="#000"/>
<polygon points="455.0,297.5 453.1,301.1 456.9,301.1" fill="#000"/>
<polygon points="458.2,294.8 456.3,298.3 460.1,298.3" fill="#000"/>
<polygon points="461.3,300.3 459.4,303.9 463.2,303.9" fill="#000"/>
<polygon points="464.4,306.5 462.5,310.1 466.2,310.1" fill="#000"/>
<polygon points="467.5,310.8 465.6,314.3 469.4,314.3" fill="#000"/>
<polygon points="470.6,317.8 468.8,321.4 472.5,321.4" fill="#000"/>
<polygon points="473.7,324.8 471.8,328.4 475.6,328.4" fill="#000"/>
<polygon points="476.8,337.1 474.9,340.7 478.7,340.7" fill="#000"/>
<polygon points="480.0,339.1 478.1,342.7 481.9,342.7" fill="#000"/>
<polygon points="483.0,339.9 481.1,343.5 484.9,343.5" fill="#000"/>
<polygon points="484.6,340.3 482.8,343.9 486.5,343.9" fill="#000"/>
<polyline points="323.8,337.0 327.1,305.6 329.4,313.5 332.5,317.4 335.8,317.4 339.2,315.5 342.0,314.6 345.7,311.8 349.0,309.3 352.2,310.1 355.3,310.7 358.4,311.2 361.5,311.2 364.6,310.7 367.7,307.3 370.5,312.6 373.9,314.6 377.0,315.7 380.0,314.6 383.2,312.6 386.4,308.6 389.5,304.4 392.6,301.6 395.7,297.2 398.8,298.6 401.9,298.6 405.0,293.0 408.1,290.0 411.2,286.5 414.3,280.3 417.4,273.2 420.5,271.2 423.6,272.4 426.7,266.2 430.0,262.0 433.2,257.7 436.3,262.8 439.4,263.9 442.5,265.3 445.6,270.4 448.7,271.2 452.0,277.4 455.0,284.5 458.2,291.5 461.3,278.8 464.4,283.0 467.5,302.8 470.6,312.6 473.7,325.3 476.8,336.6 480.0,338.8 483.5,340.0 486.9,341.2 490.0,340.6 493.0,341.5 496.3,341.7" fill="none" stroke="#f00000" stroke-width="1" stroke-linejoin="round"/>
<circle cx="323.8" cy="337.0" r="1.8" fill="#e60000"/>
<circle cx="327.1" cy="305.6" r="1.8" fill="#e60000"/>
<circle cx="329.4" cy="313.5" r="1.8" fill="#e60000"/>
<circle cx="332.5" cy="317.4" r="1.8" fill="#e60000"/>
<circle cx="335.8" cy="317.4" r="1.8" fill="#e60000"/>
<circle cx="339.2" cy="315.5" r="1.8" fill="#e60000"/>
<circle cx="342.0" cy="314.6" r="1.8" fill="#e60000"/>
<circle cx="345.7" cy="311.8" r="1.8" fill="#e60000"/>
<circle cx="349.0" cy="309.3" r="1.8" fill="#e60000"/>
<circle cx="352.2" cy="310.1" r="1.8" fill="#e60000"/>
<circle cx="355.3" cy="310.7" r="1.8" fill="#e60000"/>
<circle cx="358.4" cy="311.2" r="1.8" fill="#e60000"/>
<circle cx="361.5" cy="311.2" r="1.8" fill="#e60000"/>
<circle cx="364.6" cy="310.7" r="1.8" fill="#e60000"/>
<circle cx="367.7" cy="307.3" r="1.8" fill="#e60000"/>
<circle cx="370.5" cy="312.6" r="1.8" fill="#e60000"/>
<circle cx="373.9" cy="314.6" r="1.8" fill="#e60000"/>
<circle cx="377.0" cy="315.7" r="1.8" fill="#e60000"/>
<circle cx="380.0" cy="314.6" r="1.8" fill="#e60000"/>
<circle cx="383.2" cy="312.6" r="1.8" fill="#e60000"/>
<circle cx="386.4" cy="308.6" r="1.8" fill="#e60000"/>
<circle cx="389.5" cy="304.4" r="1.8" fill="#e60000"/>
<circle cx="392.6" cy="301.6" r="1.8" fill="#e60000"/>
<circle cx="395.7" cy="297.2" r="1.8" fill="#e60000"/>
<circle cx="398.8" cy="298.6" r="1.8" fill="#e60000"/>
<circle cx="401.9" cy="298.6" r="1.8" fill="#e60000"/>
<circle cx="405.0" cy="293.0" r="1.8" fill="#e60000"/>
<circle cx="408.1" cy="290.0" r="1.8" fill="#e60000"/>
<circle cx="411.2" cy="286.5" r="1.8" fill="#e60000"/>
<circle cx="414.3" cy="280.3" r="1.8" fill="#e60000"/>
<circle cx="417.4" cy="273.2" r="1.8" fill="#e60000"/>
<circle cx="420.5" cy="271.2" r="1.8" fill="#e60000"/>
<circle cx="423.6" cy="272.4" r="1.8" fill="#e60000"/>
<circle cx="426.7" cy="266.2" r="1.8" fill="#e60000"/>
<circle cx="430.0" cy="262.0" r="1.8" fill="#e60000"/>
<circle cx="433.2" cy="257.7" r="1.8" fill="#e60000"/>
<circle cx="436.3" cy="262.8" r="1.8" fill="#e60000"/>
<circle cx="439.4" cy="263.9" r="1.8" fill="#e60000"/>
<circle cx="442.5" cy="265.3" r="1.8" fill="#e60000"/>
<circle cx="445.6" cy="270.4" r="1.8" fill="#e60000"/>
<circle cx="448.7" cy="271.2" r="1.8" fill="#e60000"/>
<circle cx="452.0" cy="277.4" r="1.8" fill="#e60000"/>
<circle cx="455.0" cy="284.5" r="1.8" fill="#e60000"/>
<circle cx="458.2" cy="291.5" r="1.8" fill="#e60000"/>
<circle cx="461.3" cy="278.8" r="1.8" fill="#e60000"/>
<circle cx="464.4" cy="283.0" r="1.8" fill="#e60000"/>
<circle cx="467.5" cy="302.8" r="1.8" fill="#e60000"/>
<circle cx="470.6" cy="312.6" r="1.8" fill="#e60000"/>
<circle cx="473.7" cy="325.3" r="1.8" fill="#e60000"/>
<circle cx="476.8" cy="336.6" r="1.8" fill="#e60000"/>
<circle cx="480.0" cy="338.8" r="1.8" fill="#e60000"/>
<circle cx="483.5" cy="340.0" r="1.8" fill="#e60000"/>
<circle cx="486.9" cy="341.2" r="1.8" fill="#e60000"/>
<circle cx="490.0" cy="340.6" r="1.8" fill="#e60000"/>
<circle cx="493.0" cy="341.5" r="1.8" fill="#e60000"/>
<circle cx="496.3" cy="341.7" r="1.8" fill="#e60000"/>
<line x1="419.4" y1="315" x2="432.2" y2="315" stroke="#000" stroke-width="1.1"/><polygon points="425.8,313.1 423.9,316.7 427.7,316.7" fill="#000"/>
<text x="434.3" y="318.2" font-size="8.6" fill="#595959">Hydride</text>
<line x1="419.4" y1="328.6" x2="432.2" y2="328.6" stroke="#f00000" stroke-width="1.1"/><circle cx="425.8" cy="328.6" r="1.9" fill="#e60000"/>
<text x="434.3" y="331.8" font-size="8.6" letter-spacing="0.3" fill="#595959">Matrix</text>
<text x="300" y="253.4" font-size="11" font-weight="bold" fill="#000">(d)</text>
</svg></body></html>
